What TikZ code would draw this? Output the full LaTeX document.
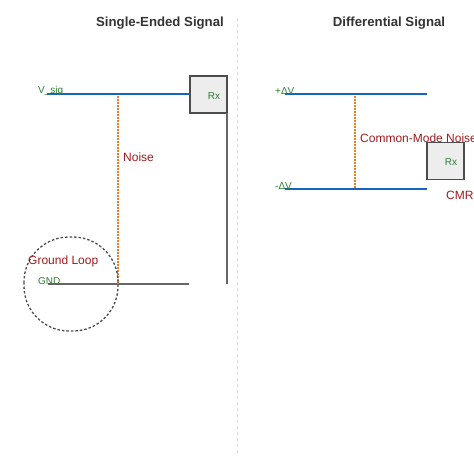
\documentclass[tikz,border=0pt]{standalone}
\usepackage{fontspec}
\setmainfont{Liberation Sans}
\usepackage{xcolor}
\usetikzlibrary{positioning,calc}
\definecolor{sigBlue}{HTML}{1565C0}
\definecolor{noiseOrange}{HTML}{EF7D22}
\definecolor{lblRed}{HTML}{9E1B1B}
\definecolor{lblGreen}{HTML}{2E7D32}
\definecolor{wireGray}{HTML}{666666}

\begin{document}
\begin{tikzpicture}[x=1pt, y=-1pt,
  title/.style={font=\fontsize{13.2}{15}\selectfont\bfseries, text=black!80},
  tag/.style={font=\fontsize{10}{12}\selectfont, text=lblGreen, inner sep=0pt, anchor=west},
  note/.style={font=\fontsize{12}{14}\selectfont, text=lblRed, inner sep=0pt, anchor=west},
  rxbox/.style={draw=black!70, line width=1.5pt, fill=black!7, minimum size=37pt, inner sep=0pt, outer sep=0pt},
  sigline/.style={sigBlue, line width=2pt},
  gndline/.style={wireGray, line width=1.5pt},
  noiseline/.style={noiseOrange, line width=1.5pt, dash pattern=on 1.5pt off 1.5pt}]
\useasboundingbox (0,0) rectangle (474,474);
% --- titles and divider ---
\node[title] (seTitle) at (160,23) {Single-Ended Signal};
\node[title] (dfTitle) at (389,23) {Differential Signal};
\coordinate (divTop) at (237,18);
\coordinate (divBot) at (237,456);
\draw[black!15, line width=1pt, dashed] (divTop) -- (divBot);
% --- single-ended side ---
\node[rxbox] (seRx) at (208.5,94.5) {};
\node[font=\fontsize{10}{12}\selectfont, text=lblGreen] at (214,96) {Rx};
\coordinate (vsigL) at (47,94);
\coordinate (gndL) at (48,284);
\coordinate (gndR) at (189,284);
\coordinate (retBot) at (seRx.south east |- gndR);
\coordinate (seNoiseTop) at (118,96);
\coordinate (seNoiseBot) at (118,284);
\draw[sigline] (vsigL) -- (seRx.west |- vsigL);
\draw[gndline] (gndL) -- (gndR);
\draw[gndline] (seRx.south east) -- (retBot);
\draw[noiseline] (seNoiseTop) -- (seNoiseBot);
\node[tag] (vsig) at (38,91) {V\_sig};
\node[tag] (gnd) at (38,281) {GND};
\node[note] (noise) at (123,157) {Noise};
\draw[black!70, dash pattern=on 2.5pt off 2pt, line width=1.3pt, rounded corners=45pt]
  (24,237) rectangle (118,331);
\node[note] (loopLbl) at (28,261) {Ground Loop};
% --- differential side ---
\coordinate (posL) at (285,94);
\coordinate (posR) at (427,94);
\coordinate (negL) at (285,189);
\coordinate (negR) at (427,189);
\draw[sigline] (posL) -- (posR);
\draw[sigline] (negL) -- (negR);
\coordinate (dfNoiseTop) at (355,96);
\coordinate (dfNoiseBot) at (355,189);
\draw[noiseline] (dfNoiseTop) -- (dfNoiseBot);
\node[tag] (pos) at (275,91) {+ΔV};
\node[tag] (neg) at (275,186) {-ΔV};
\node[note] (cmNoise) at (360,138) {Common-Mode Noise};
\node[rxbox] (dfRx) at (445.5,161) {};
\node[font=\fontsize{10}{12}\selectfont, text=lblGreen] at (451,162) {Rx};
\node[note] (cmr) at (446,195) {CMR};
\end{tikzpicture}
\end{document}
